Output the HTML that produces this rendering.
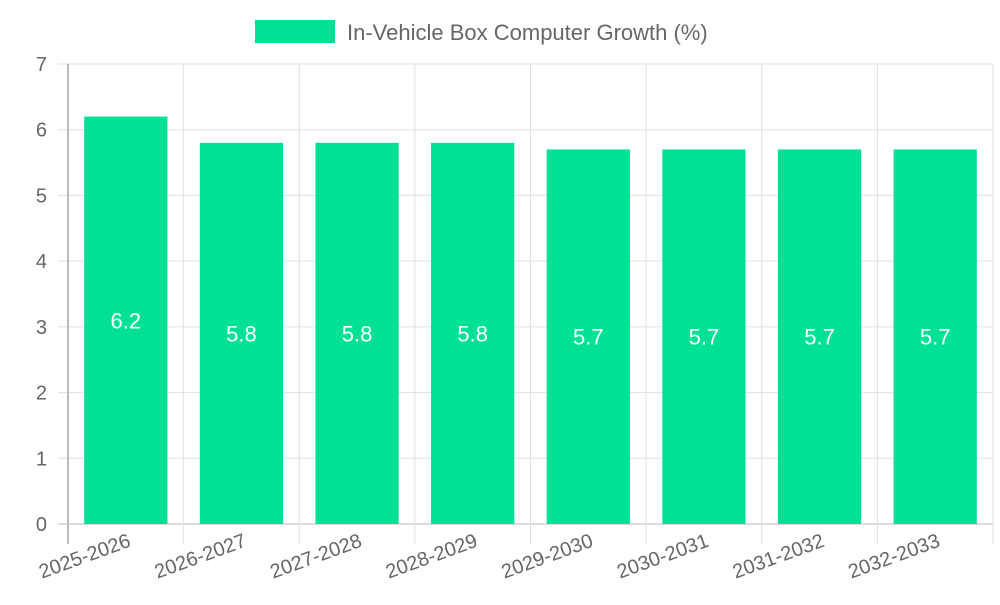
<!DOCTYPE html>
<html><head><meta charset="utf-8"><style>
body{margin:0;background:#fff;width:1000px;height:600px;overflow:hidden;font-family:"Liberation Sans",sans-serif}
</style></head><body>
<svg id="chart" width="1000" height="600" xmlns="http://www.w3.org/2000/svg">
<g>
<rect x="255" y="20" width="80" height="23" fill="#00e096"/>
<text x="347" y="40" font-size="22" fill="#666">In-Vehicle Box Computer Growth (%)</text>
</g>
<g id="grid"></g>
<g id="bars"></g>
<g id="labels"></g>
</svg>
<script>
const categories=["2025-2026","2026-2027","2027-2028","2028-2029","2029-2030","2030-2031","2031-2032","2032-2033"];
const values=[6.2,5.8,5.8,5.8,5.7,5.7,5.7,5.7];
const yTicks=[0,1,2,3,4,5,6,7];
const NS="http://www.w3.org/2000/svg";
const L=68,R=993,T=64,B=524,yMax=7;
const y=v=>B-(v/yMax)*(B-T);
const band=(R-L)/categories.length;
const x=i=>L+i*band;
function mk(tag,attrs,parent,text){const e=document.createElementNS(NS,tag);for(const k in attrs)e.setAttribute(k,attrs[k]);if(text!==undefined)e.textContent=text;document.getElementById(parent).appendChild(e);return e;}
yTicks.forEach(t=>{
  const g=mk('line',{x1:58,x2:R,y1:y(t),y2:y(t),stroke:t===0?'#bbb':'#e0e0e0','stroke-width':1},'grid');
  
  
  const l=mk('text',{x:47,y:y(t)+7,'text-anchor':'end','font-size':20,fill:'#666'},'labels',String(t));
  
  
});
for(let i=0;i<=categories.length;i++){
  const g=mk('line',{x1:x(i),x2:x(i),y1:T,y2:B+20,stroke:i===0?'#bbb':'#e0e0e0','stroke-width':i===0?2:1},'grid');
  
  
}
categories.forEach((c,i)=>{
  const bw=band*0.72,bx=x(i)+(band-bw)/2;
  const r=mk('rect',{x:bx,y:y(values[i]),width:bw,height:B-y(values[i]),fill:'#00e096'},'bars');
  
  
  const v=mk('text',{x:bx+bw/2,y:(y(values[i])+B)/2+8,'text-anchor':'middle','font-size':22,fill:'#fff'},'bars',String(values[i]));
  
  
  const cx=x(i)+band/2+6,cy=546;
  const l=mk('text',{x:cx,y:cy,'text-anchor':'end','font-size':20,fill:'#666',transform:`rotate(-20 ${cx} ${cy})`},'labels',c);
  
  
});
</script>
</body></html>
